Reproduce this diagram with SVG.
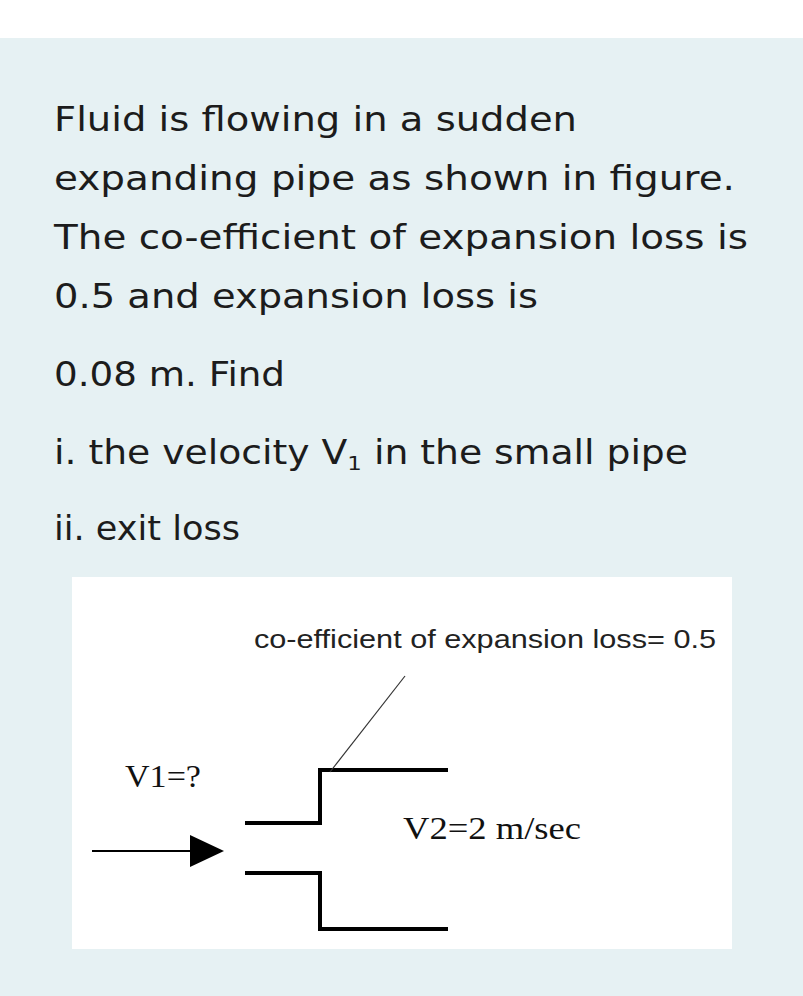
<svg xmlns="http://www.w3.org/2000/svg" width="803" height="996" viewBox="0 0 803 996">
<style>
.q{font-family:"DejaVu Sans","Noto Sans",sans-serif;font-size:33px;fill:#1c1c1c}
.s{font-family:"Liberation Serif",serif;font-size:31px;fill:#111}
.p{stroke:#000;stroke-width:4;fill:none}
</style>
<rect width="803" height="996" fill="#fff"/>
<rect y="38" width="803" height="958" fill="#e6f1f3"/>
<g id="question">
<text class="q" x="54" y="131" textLength="523" lengthAdjust="spacingAndGlyphs">Fluid is flowing in a sudden</text>
<text class="q" x="54" y="190" textLength="681" lengthAdjust="spacingAndGlyphs">expanding pipe as shown in figure.</text>
<text class="q" x="54" y="249" textLength="694" lengthAdjust="spacingAndGlyphs">The co-efficient of expansion loss is</text>
<text class="q" x="54" y="308" textLength="484" lengthAdjust="spacingAndGlyphs">0.5 and expansion loss is</text>
<text class="q" x="54" y="386" textLength="231" lengthAdjust="spacingAndGlyphs">0.08 m. Find</text>
<text class="q" x="54" y="464" textLength="634" lengthAdjust="spacingAndGlyphs">i. the velocity V<tspan font-size="20" dy="6">1</tspan><tspan dy="-6"> in the small pipe</tspan></text>
<text class="q" x="54" y="540" textLength="186" lengthAdjust="spacingAndGlyphs">ii. exit loss</text>
</g>
<rect x="72" y="577" width="660" height="372" fill="#fff"/>
<g id="pipe">
<path class="p" d="M245 823H320V770H448M245 873H320V929H448"/>
</g>
<g id="labels">
<text x="254" y="648" font-family="Liberation Sans,Arial,sans-serif" font-size="26" fill="#222" textLength="462" lengthAdjust="spacingAndGlyphs">co-efficient of expansion loss= 0.5</text>
<text class="s" x="125" y="787" textLength="76" lengthAdjust="spacingAndGlyphs">V1=?</text>
<text class="s" x="403" y="839" textLength="178" lengthAdjust="spacingAndGlyphs">V2=2 m/sec</text>
</g>
<g id="connectors">
<line x1="405" y1="676" x2="330" y2="772" stroke="#333" stroke-width="1.2"/>
<line x1="92" y1="851" x2="195" y2="851" stroke="#000" stroke-width="2"/>
<polygon points="190,835 224,851 190,867" fill="#000"/>
</g>
</svg>
